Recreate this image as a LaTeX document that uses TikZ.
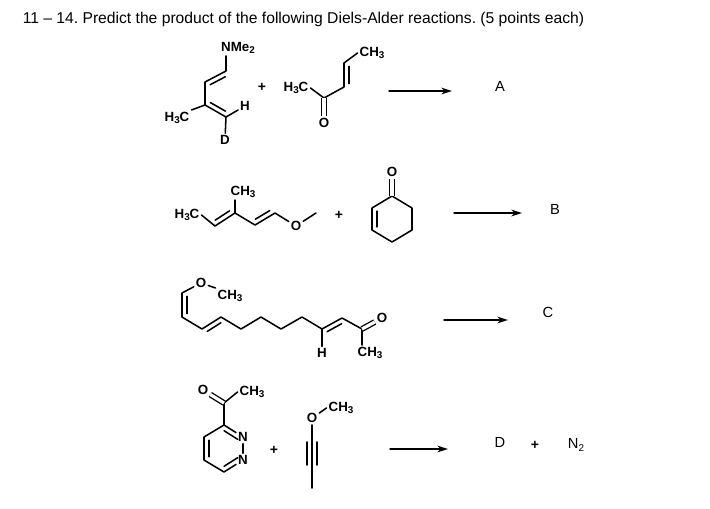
\documentclass[tikz,border=0pt]{standalone}
\usepackage{fontspec}
\setmainfont{Liberation Sans}
\usetikzlibrary{calc,arrows.meta}
\newcommand{\dblbond}[2]{\draw ($(#1)!0.14!(#2)!3.6pt!90:(#2)$) -- ($(#2)!0.14!(#1)!3.6pt!-90:(#1)$);}
\newcommand{\lowidx}[1]{\raisebox{-1.8pt}{\fontsize{7.4}{8}\selectfont #1}}
\begin{document}
\begin{tikzpicture}[x=0.75pt, y=-0.75pt, line width=1.15pt, line cap=round, line join=round,
        atom/.style = {font=\fontsize{10}{11}\selectfont\bfseries, inner sep=1pt},
        plus/.style = {font=\fontsize{10.5}{11}\selectfont\bfseries, inner sep=0pt},
        letter/.style = {font=\fontsize{11}{12}\selectfont, inner sep=0pt},
        carbonyl/.style = {double, double distance=2.4pt, line width=1pt, line cap=butt},
        reaction/.style = {-{Stealth[length=8pt,width=5pt]}, line width=1.1pt}]
    \useasboundingbox (0,0) rectangle (710,508);
    \node[font=\fontsize{11.75}{13}\selectfont, anchor=west, inner sep=0pt](title) at (22,19){\frenchspacing 11 -- 14. Predict the product of the following Diels-Alder reactions. (5 points each)};

    \coordinate (a1) at (226,71);
    \coordinate (a2) at (205,82);
    \coordinate (a3) at (205,105);
    \coordinate (a4) at (226,117);
    \node[atom](nme) at (238,48){NMe\lowidx{2}};
    \node[atom](aH) at (245,106){H};
    \node[atom](aD) at (225,140){D};
    \node[atom](ame) at (177,118){H\lowidx{3}C};
    \draw (nme.south -| a1) -- (a1) -- (a2) -- (a3) -- (a4) -- (aH);
    \draw (a4) -- (aD);
    \draw (a3) -- (ame.north east);
    \dblbond{a1}{a2}
    \dblbond{a3}{a4}
    \node[plus](plusA) at (262,87){+};

    \coordinate (b1) at (324,98);
    \coordinate (b2) at (344,87);
    \coordinate (b3) at (344,63);
    \node[atom](bme) at (296,88){H\lowidx{3}C};
    \node[atom](bO) at (324,123){O};
    \node[atom](bch) at (372,53){CH\lowidx{3}};
    \draw (bme.east) -- (b1) -- (b2) -- (b3) -- (bch.west);
    \draw[carbonyl] (b1) -- (bO);
    \dblbond{b3}{b2}
    \coordinate (arrA1) at (389,91);
    \coordinate (arrA2) at (452,91);
    \draw[reaction] (arrA1) -- (arrA2);
    \node[letter](A) at (500,86){A};

    \coordinate (c1) at (215,226);
    \coordinate (c2) at (235,213);
    \coordinate (c3) at (255,225);
    \coordinate (c4) at (275,213);
    \coordinate (c5) at (316,213);
    \node[atom](cme) at (187,215){H\lowidx{3}C};
    \node[atom](cch) at (243,192){CH\lowidx{3}};
    \node[atom](cO) at (296,226){O};
    \draw (cme.east) -- (c1) -- (c2) -- (c3) -- (c4) -- (cO) -- (c5);
    \draw (c2) -- (cch.south -| c2);
    \dblbond{c1}{c2}
    \dblbond{c3}{c4}
    \node[plus](plusB) at (339,215){+};

    \coordinate (d1) at (392,196);
    \coordinate (d2) at (372,208);
    \coordinate (d3) at (372,230);
    \coordinate (d4) at (392,242);
    \coordinate (d5) at (412,230);
    \coordinate (d6) at (412,208);
    \node[atom](dO) at (392,172){O};
    \draw (d1) -- (d2) -- (d3) -- (d4) -- (d5) -- (d6) -- cycle;
    \draw[carbonyl] (d1) -- (dO);
    \dblbond{d2}{d3}
    \coordinate (arrB1) at (454,213);
    \coordinate (arrB2) at (522,213);
    \draw[reaction] (arrB1) -- (arrB2);
    \node[letter](B) at (555,209){B};

    \node[atom](eO) at (201,283){O};
    \node[atom](ech) at (230,296){CH\lowidx{3}};
    \coordinate (e1) at (182,293);
    \coordinate (e2) at (182,317);
    \coordinate (e3) at (202,329);
    \coordinate (e4) at (221,317);
    \coordinate (e5) at (241,329);
    \coordinate (e6) at (261,317);
    \coordinate (e7) at (281,329);
    \coordinate (e8) at (302,317);
    \coordinate (e9) at (322,329);
    \coordinate (e10) at (342,318);
    \coordinate (e11) at (362,329);
    \node[atom](eH) at (322,353){H};
    \node[atom](eme) at (370,353){CH\lowidx{3}};
    \node[atom](eO2) at (382,318){O};
    \draw (ech.north west) -- (eO) -- (e1) -- (e2) -- (e3) -- (e4) -- (e5) -- (e6) -- (e7) -- (e8) -- (e9) -- (e10) -- (e11);
    \draw (e9) -- (eH);
    \draw (e11) -- (eme.north -| e11);
    \draw[carbonyl] (e11) -- (eO2);
    \dblbond{e1}{e2}
    \dblbond{e4}{e3}
    \dblbond{e10}{e9}
    \coordinate (arrC1) at (444,320);
    \coordinate (arrC2) at (508,320);
    \draw[reaction] (arrC1) -- (arrC2);
    \node[letter](C) at (548,312){C};

    \node[atom](fO) at (203,390){O};
    \node[atom](fch) at (252,392){CH\lowidx{3}};
    \coordinate (f1) at (224,403);
    \coordinate (f2) at (224,425);
    \node[atom](fN1) at (243,437){N};
    \node[atom](fN2) at (243,460){N};
    \coordinate (f3) at (224,472);
    \coordinate (f4) at (204,460);
    \coordinate (f5) at (204,437);
    \draw (fch.west) -- (f1) -- (f2) -- (fN1) -- (fN2) -- (f3) -- (f4) -- (f5) -- (f2);
    \draw[carbonyl] (f1) -- (fO);
    \dblbond{fN1}{f2}
    \dblbond{f3}{fN2}
    \dblbond{f5}{f4}
    \node[plus](plusD) at (274,450){+};

    \node[atom](gO) at (312,418){O};
    \node[atom](gch) at (341,408){CH\lowidx{3}};
    \coordinate (g1) at (312,442);
    \coordinate (g2) at (312,465);
    \coordinate (g3) at (312,488);
    \draw (gch.west) -- (gO) -- (g1) -- (g2) -- (g3);
    \draw ($(g1)+(-5,0)$) -- ($(g2)+(-5,0)$);
    \draw ($(g1)+(5,0)$) -- ($(g2)+(5,0)$);
    \coordinate (arrD1) at (390,449);
    \coordinate (arrD2) at (448,449);
    \draw[reaction] (arrD1) -- (arrD2);
    \node[letter](D) at (500,442){D};
    \node[plus](plusN) at (535,445){+};
    \node[letter](Ntwo) at (576,445){N\lowidx{2}};
\end{tikzpicture}
\end{document}
